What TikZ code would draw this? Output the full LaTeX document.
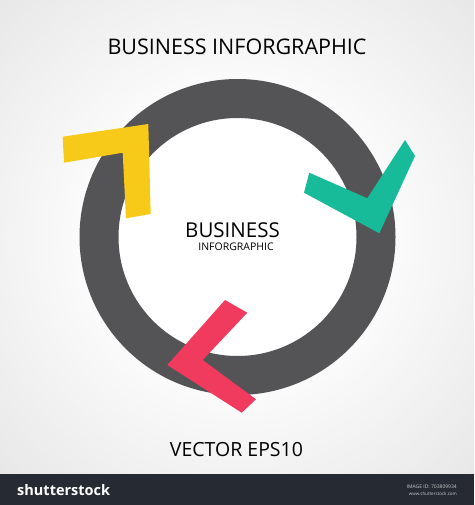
\documentclass[tikz,border=0pt]{standalone}
\usepackage{fontspec}
\setmainfont{Open Sans}
\usepackage{tikz}
\usetikzlibrary{positioning}
\definecolor{mgray}{rgb}{0.33, 0.33, 0.34}
\definecolor{myellow}{rgb}{0.97, 0.79, 0.1}
\definecolor{mteal}{rgb}{0.09, 0.73, 0.6}
\definecolor{mred}{rgb}{0.94, 0.23, 0.37}
\definecolor{mbg}{rgb}{0.78, 0.78, 0.78}
\definecolor{mbar}{rgb}{0.15, 0.17, 0.2}
\pgfdeclareradialshading{bgshade}{\pgfpoint{0bp}{0bp}}{color(0bp)=(white); color(12bp)=(white); color(68bp)=(mbg); color(72bp)=(mbg)}
\tikzset{txt/.style = {inner sep = 0, anchor = base, text = black}}
\tikzset{bartxt/.style = {inner sep = 0, anchor = base east, text = white!75!mbar}}

\begin{document}
\begin{tikzpicture}[x = 1pt, y = -1pt]
      \useasboundingbox (0, 0) rectangle (474, 505);
      \shade [shading = bgshade] (0, 0) rectangle (474, 474);
      \fill [mbar] (0, 474) rectangle (474, 505);

      \draw [mgray, line width = 39] (237.5, 237) circle (138.5);

      \fill [myellow] (62.7, 136.7) -- (148.3, 124) -- (150.7, 214) -- (126, 218.3)
        -- (122.7, 152.7) -- (64, 162.7) -- cycle;
      \fill [mteal] (405, 140) -- (415, 156) -- (379.3, 233.3) -- (304, 192.7)
        -- (309.3, 172.7) -- (367.3, 198.3) -- cycle;
      \fill [mred] (225, 300) -- (247.3, 312.7) -- (202.7, 360) -- (256, 399.3)
        -- (241.7, 412.7) -- (167.3, 365) -- cycle;

      \node [txt, font = \fontsize{21.5}{21.5}\selectfont] (title) at (237, 55) {BUSINESS INFORGRAPHIC};
      \node [txt, font = \fontsize{20.5}{20.5}\selectfont] (bus) at (232.5, 237.8) {BUSINESS};
      \node [txt, font = \fontsize{10.5}{10.5}\selectfont] (info) at (236, 250.3) {INFORGRAPHIC};
      \node [txt, font = \fontsize{19.5}{19.5}\selectfont] (vector) at (236.5, 456.7) {VECTOR EPS10};

      \node [inner sep = 0, anchor = base west, text = white, font = \bfseries\fontsize{14.5}{14.5}\selectfont] (logo) at (17, 495.7) {shutterstock};
      \node [bartxt, font = \fontsize{5}{5}\selectfont] (imgid) at (457, 488) {IMAGE ID: 703809934};
      \node [bartxt, font = \fontsize{4.5}{4.5}\selectfont] (site) at (457, 495) {www.shutterstock.com};
    \end{tikzpicture}
\end{document}
